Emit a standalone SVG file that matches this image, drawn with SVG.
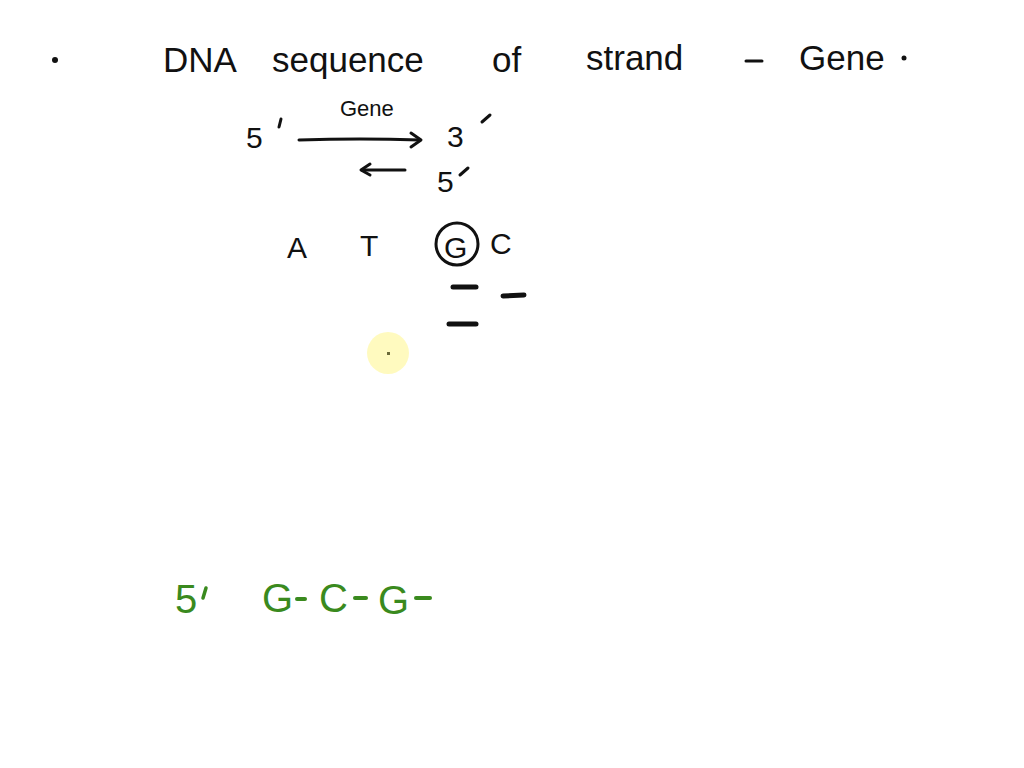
<svg xmlns="http://www.w3.org/2000/svg" width="1024" height="768" viewBox="0 0 1024 768">
<style>
.ink{font-family:"Liberation Sans",Arial,sans-serif;fill:#111}
.h{font-size:35px}
.m{font-size:30px}
.s{font-size:22px}
.g{font-family:"Liberation Sans",Arial,sans-serif;fill:#3a8a1e;font-size:40px}
.ln{stroke:#111;stroke-width:3;fill:none;stroke-linecap:round;stroke-linejoin:round}
.dash{stroke:#111;stroke-width:5;stroke-linecap:round}
</style>
<rect width="1024" height="768" fill="#fff"/>
<g id="title">
<circle cx="55" cy="60" r="3" fill="#111"/>
<text class="ink h" x="163" y="72">DNA</text>
<text class="ink h" x="272" y="72">sequence</text>
<text class="ink h" x="492" y="72">of</text>
<text class="ink h" x="586" y="70">strand</text>
<line class="ln" x1="746" y1="61" x2="762" y2="61"/>
<text class="ink h" x="799" y="70">Gene</text>
<circle cx="904" cy="58" r="2.5" fill="#111"/>
</g>
<g id="gene-strand">
<text class="ink s" x="340" y="116">Gene</text>
<text class="ink m" x="246" y="148">5</text>
<line class="ln" x1="281" y1="119" x2="279" y2="127"/>
<path class="ln" d="M299 140 Q360 138 420 140"/>
<path class="ln" d="M411 133 L421 140 L411 147"/>
<text class="ink m" x="447" y="147">3</text>
<line class="ln" x1="482" y1="122" x2="490" y2="115"/>
<path class="ln" d="M405 170 L362 170"/>
<path class="ln" d="M370 164 L361 170 L370 175"/>
<text class="ink m" x="437" y="192">5</text>
<line class="ln" x1="460" y1="175" x2="468" y2="168"/>
</g>
<g id="bases">
<text class="ink m" x="287" y="258">A</text>
<text class="ink m" x="360" y="256">T</text>
<text class="ink m" x="444" y="258">G</text>
<circle class="ln" cx="457" cy="244" r="21"/>
<text class="ink m" x="490" y="254">C</text>
<line class="dash" x1="453" y1="287" x2="476" y2="287"/>
<line class="dash" x1="503" y1="296" x2="524" y2="295"/>
<line class="dash" x1="449" y1="324" x2="476" y2="324"/>
</g>
<g id="pointer">
<circle cx="388" cy="353" r="21" fill="#fff9b8" opacity="0.9"/>
<rect x="387" y="352" width="3" height="3" fill="#6b6a3a"/>
</g>
<g id="green-seq">
<text class="g" x="175" y="613">5</text>
<line x1="206" y1="588" x2="203" y2="598" stroke="#3a8a1e" stroke-width="3.5" stroke-linecap="round"/>
<text class="g" x="262" y="612">G</text>
<line x1="297" y1="599" x2="305" y2="599" stroke="#3a8a1e" stroke-width="4" stroke-linecap="round"/>
<text class="g" x="319" y="612">C</text>
<line x1="355" y1="598" x2="366" y2="598" stroke="#3a8a1e" stroke-width="4" stroke-linecap="round"/>
<text class="g" x="378" y="614">G</text>
<line x1="416" y1="598" x2="430" y2="598" stroke="#3a8a1e" stroke-width="4" stroke-linecap="round"/>
</g>
</svg>
